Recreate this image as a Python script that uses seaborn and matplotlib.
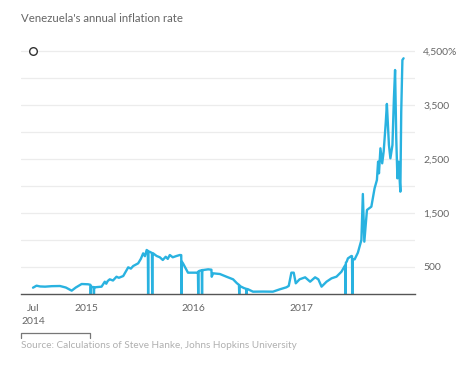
import matplotlib
matplotlib.use("Agg")
import matplotlib.pyplot as plt
import matplotlib.dates as mdates
from matplotlib.lines import Line2D
import seaborn as sns
import pandas as pd

# ---- data ----
dates = [
    "2014-07-01", "2014-07-13", "2014-07-25", "2014-08-11", "2014-09-03", "2014-10-01",
    "2014-10-21", "2014-11-10", "2014-11-24", "2014-12-14", "2015-01-05", "2015-01-13",
    "2015-01-14", "2015-01-15", "2015-01-18", "2015-01-24", "2015-01-25", "2015-01-26",
    "2015-01-28", "2015-02-20", "2015-03-03", "2015-03-08", "2015-03-13", "2015-03-20",
    "2015-03-31", "2015-04-12", "2015-04-20", "2015-05-05", "2015-05-22", "2015-05-31",
    "2015-06-08", "2015-06-25", "2015-07-04", "2015-07-12", "2015-07-18", "2015-07-24",
    "2015-07-28", "2015-07-29", "2015-07-30", "2015-08-04", "2015-08-11", "2015-08-12",
    "2015-08-13", "2015-08-15", "2015-08-27", "2015-09-07", "2015-09-17", "2015-09-27",
    "2015-10-04", "2015-10-11", "2015-10-21", "2015-11-03", "2015-11-14", "2015-11-19",
    "2015-11-20", "2015-11-21", "2015-11-25", "2015-12-12", "2016-01-10", "2016-01-15",
    "2016-01-16", "2016-01-17", "2016-01-21", "2016-01-28", "2016-01-29", "2016-01-30",
    "2016-02-02", "2016-02-19", "2016-03-01", "2016-03-02", "2016-03-07", "2016-03-30",
    "2016-04-21", "2016-05-14", "2016-05-27", "2016-06-03", "2016-06-04", "2016-06-05",
    "2016-06-06", "2016-06-20", "2016-06-28", "2016-06-29", "2016-06-30", "2016-07-03",
    "2016-07-21", "2016-08-23", "2016-09-27", "2016-10-20", "2016-11-01", "2016-11-12",
    "2016-11-20", "2016-11-29", "2016-12-07", "2016-12-14", "2016-12-27", "2017-01-15",
    "2017-02-01", "2017-02-18", "2017-03-01", "2017-03-12", "2017-03-29", "2017-04-15",
    "2017-05-02", "2017-05-19", "2017-05-30", "2017-06-01", "2017-06-02", "2017-06-03",
    "2017-06-06", "2017-06-10", "2017-06-22", "2017-06-24", "2017-06-25", "2017-06-26",
    "2017-06-28", "2017-07-03", "2017-07-14", "2017-07-26", "2017-07-31", "2017-08-05",
    "2017-08-14", "2017-08-29", "2017-09-09", "2017-09-17", "2017-09-21", "2017-09-24",
    "2017-09-29", "2017-10-05", "2017-10-10", "2017-10-17", "2017-10-21", "2017-10-28",
    "2017-11-02", "2017-11-09", "2017-11-14", "2017-11-18", "2017-11-22", "2017-11-26",
    "2017-11-30", "2017-12-04", "2017-12-06", "2017-12-09", "2017-12-13", "2017-12-17",
]
inflation = [
    117, 154, 140, 136, 145, 148,
    120, 62, 120, 185, 180, 170,
    0, 140, 130, 128, 0, 126,
    124, 136, 228, 190, 240, 272,
    250, 320, 300, 333, 494, 470,
    518, 568, 650, 753, 700, 815,
    800, 0, 790, 780, 760, 0,
    755, 753, 704, 680, 630, 690,
    650, 722, 680, 704, 722, 720,
    0, 600, 568, 395, 395, 400,
    0, 420, 430, 440, 0, 444,
    444, 457, 450, 320, 383, 370,
    321, 272, 200, 170, 0, 160,
    148, 110, 95, 0, 92, 90,
    43, 45, 43, 86, 105, 124,
    150, 395, 395, 198, 272, 309,
    228, 309, 272, 136, 228, 290,
    321, 413, 518, 530, 0, 580,
    600, 660, 704, 700, 0, 650,
    640, 642, 765, 1000, 1852, 969,
    1556, 1617, 1957, 2111, 2451, 2235,
    2698, 2420, 2636, 3161, 3520, 2759,
    2512, 2759, 3623, 4148, 2883, 2142,
    2451, 2080, 1895, 3376, 4333, 4365,
]
y_ticks = [500, 1500, 2500, 3500, 4500]
y_tick_labels = ["500", "1,500", "2,500", "3,500", "4,500%"]
grid_levels = [500, 1000, 1500, 2000, 2500, 3000, 3500, 4000, 4500]
x_ticks = ["2014-07-01", "2015-01-01", "2016-01-01", "2017-01-01"]
x_tick_labels = ["Jul\n2014", "2015", "2016", "2017"]
title = "Venezuela's annual inflation rate"
source = "Source: Calculations of Steve Hanke, Johns Hopkins University"

df = pd.DataFrame({"date": pd.to_datetime(dates), "inflation": inflation})

sns.set_style("white")
plt.rcParams["font.family"] = ["Lato", "DejaVu Sans"]

LINE = "#29b2e0"
GRID = "#ececec"
TXT = "#666666"

fig = plt.figure(figsize=(4.74, 3.66), dpi=100)
ax = fig.add_axes([21 / 474, (366 - 294) / 366, 394 / 474, (294 - 45.6) / 366])

for g in grid_levels:
    ax.axhline(g, color=GRID, lw=0.9, zorder=0)

sns.lineplot(data=df, x="date", y="inflation", ax=ax, color=LINE, lw=1.7, zorder=3)

# open circle marker at the top-left
ax.plot([pd.Timestamp(x_ticks[0])], [4500], marker="o", ms=5.5, mfc="white",
        mec="#333333", mew=1.0, ls="none", zorder=4, clip_on=False)

ax.set_xlim(pd.Timestamp("2014-05-21"), pd.Timestamp("2018-01-25"))
ax.set_ylim(0, 4600)

for s in ["top", "right", "left"]:
    ax.spines[s].set_visible(False)
ax.spines["bottom"].set_color("#555555")
ax.spines["bottom"].set_linewidth(1.0)
ax.spines["bottom"].set_zorder(5)

ax.yaxis.tick_right()
ax.set_yticks(y_ticks)
ax.set_yticklabels(y_tick_labels)
ax.tick_params(axis="y", length=0, pad=6, labelsize=7.5, labelcolor=TXT)

ax.set_xticks([mdates.date2num(pd.Timestamp(d)) for d in x_ticks])
ax.set_xticklabels(x_tick_labels, linespacing=1.6, multialignment="center")
ax.tick_params(axis="x", direction="out", length=3, width=0.8, color="#555555",
               pad=4, labelsize=7.5, labelcolor=TXT)
ax.set_xlabel("")
ax.set_ylabel("")

fig.text(21 / 474, 1 - 18 / 366, title, fontsize=8.2, color=TXT, va="center", ha="left")
fig.text(21 / 474, 1 - 345 / 366, source, fontsize=7.2, color="#b0b0b0", va="center", ha="left")

# bracket above the source line
bx0, bx1 = 21 / 474, 90 / 474
by0, by1 = 1 - 333 / 366, 1 - 338 / 366
fig.add_artist(Line2D([bx0, bx0, bx1, bx1], [by1, by0, by0, by1], color="#777777",
                      lw=0.9, transform=fig.transFigure))

fig.savefig("out.png", dpi=100)
